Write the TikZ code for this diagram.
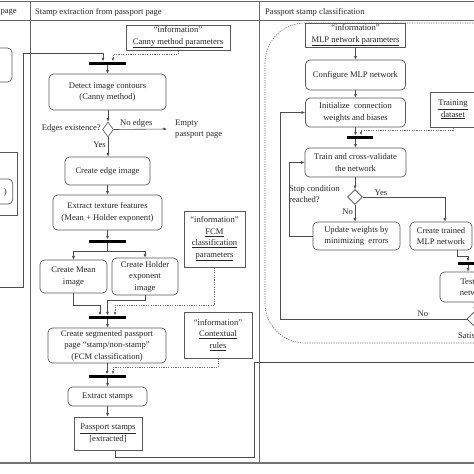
\documentclass[tikz,border=0pt]{standalone}
\usepackage{fontspec}
\setmainfont{Liberation Serif}
\usetikzlibrary{shapes.geometric,arrows.meta,calc}
\begin{document}
\begin{tikzpicture}[x=1pt,y=-1pt,
  font=\fontsize{8.6}{11.5}\selectfont,
  every node/.style={text=black!85},
  lane/.style={draw=black!60, line width=0.6pt},
  lanebot/.style={draw=black!55, line width=1.6pt},
  line/.style={draw=black!70, line width=0.6pt},
  arr/.style={line, -{Latex[length=3.5pt,width=3pt]}},
  dots/.style={draw=black!60, line width=0.6pt, dash pattern=on 1.2pt off 1.2pt},
  darr/.style={dots, -{Latex[length=3.5pt,width=3pt]}},
  act/.style={draw=black!65, line width=0.7pt, rounded corners=4.5pt, align=center, inner sep=1pt, fill=white},
  obj/.style={draw=black!65, line width=0.7pt, align=center, inner sep=1pt, fill=white},
  bar/.style={fill=black, minimum height=3pt, inner sep=0pt, minimum width=37pt},
  dec/.style={diamond, draw=black!70, line width=0.6pt, inner sep=0pt, fill=white},
  lbl/.style={inner sep=0pt, align=left},
]
\useasboundingbox (0,0) rectangle (474,474);
\clip (0,0) rectangle (474,474);

% lanes
\draw[lane] (-5,1) -- (480,1);
\draw[lane] (-5,20) -- (480,20);
\draw[lane] (30,1) -- (30,463);
\draw[lane] (259,1) -- (259,463);
\draw[lanebot] (-5,463) -- (480,463);

\node[lbl, anchor=east] (h1) at (17,12) {page};
\node[lbl, anchor=west] (h2) at (35,12) {Stamp extraction from passport page};
\node[lbl, anchor=west] (h3) at (265,12) {Passport stamp classification};

% left lane fragments
\node[act, minimum width=62pt, minimum height=34pt] (lb1) at (-19,65) {};
\node[obj, minimum width=67pt, minimum height=63pt] (lb2) at (-16.5,183.5) {};
\node[act, minimum width=63pt, minimum height=25pt, anchor=east] (lb3) at (13,191.5) {};
\node[lbl, anchor=east] (lb3t) at (7,192) {)};

% dashed interruptible region
\draw[dots, rounded corners=40pt] (265,23) rectangle (540,343);

% ---------- extraction lane ----------
\node[obj, minimum width=104pt, minimum height=25pt] (canny) at (178,37.5) {“information”\\\underline{Canny method parameters}};
\node[bar] (bar1) at (107.5,63) {};
\node[act, minimum width=117pt, minimum height=36pt] (detect) at (107.5,92) {Detect image contours\\(Canny method)};
\node[dec, minimum width=11pt, minimum height=15pt] (edges) at (108,129.5) {};
\node[lbl, anchor=east] (edgesl) at (101,128) {Edges existence?};
\node[lbl, anchor=west] (noedges) at (120,123) {No edges};
\node[lbl, anchor=east] (yes1) at (106,145) {Yes};
\node[lbl, anchor=west] (empty) at (175,129) {Empty\\passport page};
\node[act, minimum width=85pt, minimum height=28pt] (edgeimg) at (107.5,171) {Create edge image};
\node[act, minimum width=109pt, minimum height=35pt] (texture) at (107.5,212.5) {Extract texture features\\(Mean + Holder exponent)};
\node[bar] (bar2) at (107.5,241) {};
\node[act, minimum width=67pt, minimum height=33pt] (mean) at (73.5,276.5) {Create Mean\\image};
\node[act, minimum width=66pt, minimum height=37pt] (holder) at (145,276.5) {Create Holder\\exponent\\image};
\node[obj, minimum width=61pt, minimum height=56pt] (fcm) at (214.5,239) {“information”\\\underline{FCM}\\\underline{classification}\\\underline{parameters}};
\node[bar] (bar3) at (107.5,317) {};
\node[act, minimum width=118pt, minimum height=35pt] (seg) at (107,345.5) {Create segmented passport\\page “stamp/non-stamp”\\(FCM classification)};
\node[obj, minimum width=68pt, minimum height=46pt] (ctx) at (218,335) {“information”\\\underline{Contextual}\\\underline{rules}};
\node[bar] (bar4) at (107.5,376) {};
\node[act, minimum width=79pt, minimum height=19pt] (extract) at (107.5,396.5) {Extract stamps};
\node[obj, minimum width=68pt, minimum height=33pt] (stamps) at (108,433.5) {\underline{Passport stamps}\\{[extracted]}};

\coordinate (inL) at (-5,287);
\coordinate (outR) at (480,362);

\draw[arr] (inL) -| (23,53) -| ([xshift=-4.5pt]bar1.north);
\draw[darr] (canny.south) -- ++(0,4) -| ([xshift=5.5pt]bar1.north);
\draw[arr] (bar1.south) -- (detect.north);
\draw[arr] (detect.south -| edges.north) -- (edges.north);
\draw[arr] (edges.east) -- ([xshift=-8pt]empty.west);
\draw[arr] (edges.south) -- (edgeimg.north -| edges.south);
\draw[arr] (edgeimg.south) -- (texture.north);
\draw[arr] (texture.south) -- (bar2.north);
\draw[line] (bar2.south) -- ++(0,9) coordinate (fk);
\draw[arr] (fk) -| (mean.north);
\draw[arr] (fk) -| (holder.north);
\draw[arr] (mean.south) -- ++(0,12) -| ([xshift=-7.5pt]bar3.north);
\draw[arr] (holder.south) -- ++(0,5) -| (bar3.north);
\draw[darr] (fcm.south) -- ++(0,38) -| ([xshift=7.5pt]bar3.north);
\draw[arr] (bar3.south) -- (bar3.south |- seg.north);
\draw[arr] (seg.south) -- (seg.south |- bar4.north);
\draw[darr] (ctx.south) -- ++(0,9) -| ([xshift=5.5pt]bar4.north);
\draw[arr] (bar4.south) -- (extract.north);
\draw[arr] (extract.south) -- (extract.south |- stamps.north);
\draw[line] ([xshift=7pt]stamps.south) |- (254,457) |- (outR);

% ---------- classification lane ----------
\node[obj, minimum width=100pt, minimum height=23pt] (mlp) at (355.5,35.5) {“information”\\\underline{MLP network parameters}};
\node[act, minimum width=100pt, minimum height=30pt] (config) at (355.5,75) {Configure MLP network};
\node[act, minimum width=100pt, minimum height=29pt] (init) at (355.5,112.5) {Initialize \ connection\\weights and biases};
\node[obj, minimum width=46pt, minimum height=35pt] (training) at (453,109.5) {\underline{Training}\\\underline{dataset}};
\node[bar, minimum width=26pt] (bar5) at (360,137) {};
\node[act, minimum width=101pt, minimum height=29pt] (train) at (355.5,162.5) {Train and cross-validate\\the network};
\node[dec, minimum width=15pt, minimum height=15pt] (stop) at (355,197) {};
\node[lbl, anchor=west] (stopl) at (289,194) {Stop condition\\reached?};
\node[lbl, anchor=south] (yes2) at (381,196) {Yes};
\node[lbl, anchor=east] (no1) at (353,212) {No};
\node[act, minimum width=87pt, minimum height=28pt] (update) at (356.5,236) {Update weights by\\minimizing \ errors};
\node[act, minimum width=62pt, minimum height=28pt] (trained) at (441,236) {Create trained\\MLP network};
\node[bar, minimum width=36pt] (bar6) at (476,263) {};
\node[act, minimum width=68pt, minimum height=30pt] (test) at (474,287) {Test the\\network};
\node[dec, minimum width=16pt, minimum height=16pt] (sat) at (475,319) {};
\node[lbl, anchor=south] (no2) at (423,317) {No};
\node[lbl, anchor=west] (satl) at (458,336) {Satisfied?};

\draw[arr] (mlp.south) -- (config.north);
\draw[arr] (config.south) -- (init.north);
\draw[arr] (init.south) -- (init.south |- bar5.north);
\draw[darr] (training.south) -- ++(0,3) -| ([xshift=1pt]bar5.north);
\draw[arr] (bar5.south -| train.north) -- (train.north);
\draw[arr] (train.south -| stop.north) -- (stop.north);
\draw[arr] (stop.south) -- (stop.south |- update.north);
\draw[arr] (stop.east) -| ([xshift=4pt]trained.north);
\draw[arr] (update.west) -- ++(-23,0) |- (train.west);
\draw[arr] ([xshift=16pt]trained.south) -- ++(0,6) -| ([xshift=-8pt]bar6.north);
\draw[arr] ([xshift=-8pt]bar6.south) -- ([xshift=-6pt]test.north);
\draw[arr] (test.south) -- (sat.north);
\draw[arr] (sat.west) -- ++(-186,0) |- (init.west);
\end{tikzpicture}
\end{document}
